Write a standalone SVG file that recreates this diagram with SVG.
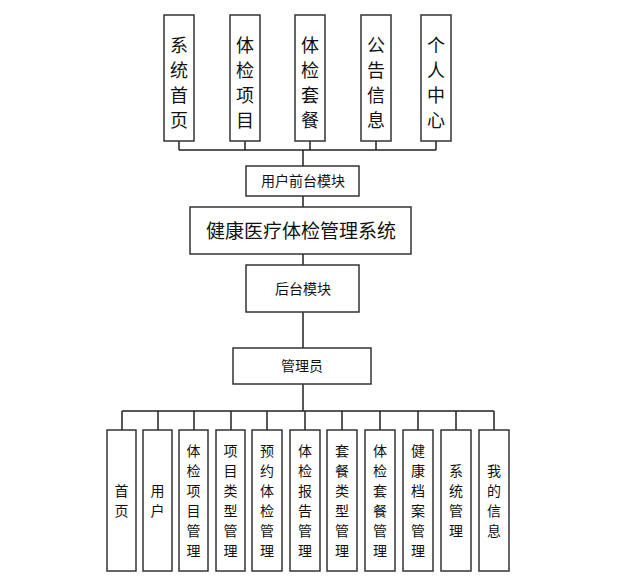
<svg xmlns="http://www.w3.org/2000/svg" width="627" height="586" viewBox="0 0 627 586">
<style>
rect{fill:#fff;stroke:#333;stroke-width:1.5}
text{font-family:"Noto Sans CJK SC","Noto Sans",sans-serif;fill:#111;text-anchor:middle}
.t{font-size:18px}.b{font-size:14px}.m{font-size:14px}
#connectors path{fill:none;stroke:#222;stroke-width:1.5}
</style>
<rect width="627" height="586" style="fill:#fff;stroke:none"/>
<g id="connectors">
<path d="M179 141V150M245 141V150M310 141V150M376 141V150M436 141V150M179 150H436M303 150V166M303 196V207M303 254V265M303 312V348M303 384V411M122 411H494M122 411V430M158 411V430M194 411V430M231 411V430M267 411V430M305 411V430M342 411V430M380 411V430M418 411V430M456 411V430M494 411V430"/>
</g>
<g id="n1"><rect x="164" y="15" width="30" height="126"/><text class="t"><tspan x="179" y="52">系</tspan><tspan x="179" y="77">统</tspan><tspan x="179" y="102">首</tspan><tspan x="179" y="127">页</tspan></text></g>
<g id="n2"><rect x="230" y="15" width="30" height="126"/><text class="t"><tspan x="245" y="52">体</tspan><tspan x="245" y="77">检</tspan><tspan x="245" y="102">项</tspan><tspan x="245" y="127">目</tspan></text></g>
<g id="n3"><rect x="295" y="15" width="30" height="126"/><text class="t"><tspan x="310" y="52">体</tspan><tspan x="310" y="77">检</tspan><tspan x="310" y="102">套</tspan><tspan x="310" y="127">餐</tspan></text></g>
<g id="n4"><rect x="361" y="15" width="30" height="126"/><text class="t"><tspan x="376" y="52">公</tspan><tspan x="376" y="77">告</tspan><tspan x="376" y="102">信</tspan><tspan x="376" y="127">息</tspan></text></g>
<g id="n5"><rect x="421" y="15" width="30" height="126"/><text class="t"><tspan x="436" y="52">个</tspan><tspan x="436" y="77">人</tspan><tspan x="436" y="102">中</tspan><tspan x="436" y="127">心</tspan></text></g>
<g id="front"><rect x="246" y="166" width="113" height="30"/><text class="m" x="303" y="186">用户前台模块</text></g>
<g id="sys"><rect x="190" y="207" width="221" height="47"/><text x="301" y="238" style="font-size:19px">健康医疗体检管理系统</text></g>
<g id="back"><rect x="246" y="265" width="113" height="47"/><text class="m" x="303" y="294">后台模块</text></g>
<g id="admin"><rect x="233" y="348" width="138" height="36"/><text class="m" x="302" y="371">管理员</text></g>
<g id="b1"><rect x="107" y="430" width="29" height="141"/><text class="b"><tspan x="121.5" y="496">首</tspan><tspan x="121.5" y="516">页</tspan></text></g>
<g id="b2"><rect x="143" y="430" width="29" height="141"/><text class="b"><tspan x="157.5" y="496">用</tspan><tspan x="157.5" y="516">户</tspan></text></g>
<g id="b3"><rect x="179" y="430" width="29" height="141"/><text class="b"><tspan x="193.5" y="456">体</tspan><tspan x="193.5" y="476">检</tspan><tspan x="193.5" y="496">项</tspan><tspan x="193.5" y="516">目</tspan><tspan x="193.5" y="536">管</tspan><tspan x="193.5" y="556">理</tspan></text></g>
<g id="b4"><rect x="216" y="430" width="29" height="141"/><text class="b"><tspan x="230.5" y="456">项</tspan><tspan x="230.5" y="476">目</tspan><tspan x="230.5" y="496">类</tspan><tspan x="230.5" y="516">型</tspan><tspan x="230.5" y="536">管</tspan><tspan x="230.5" y="556">理</tspan></text></g>
<g id="b5"><rect x="252" y="430" width="30" height="141"/><text class="b"><tspan x="267" y="456">预</tspan><tspan x="267" y="476">约</tspan><tspan x="267" y="496">体</tspan><tspan x="267" y="516">检</tspan><tspan x="267" y="536">管</tspan><tspan x="267" y="556">理</tspan></text></g>
<g id="b6"><rect x="290" y="430" width="30" height="141"/><text class="b"><tspan x="305" y="456">体</tspan><tspan x="305" y="476">检</tspan><tspan x="305" y="496">报</tspan><tspan x="305" y="516">告</tspan><tspan x="305" y="536">管</tspan><tspan x="305" y="556">理</tspan></text></g>
<g id="b7"><rect x="327" y="430" width="30" height="141"/><text class="b"><tspan x="342" y="456">套</tspan><tspan x="342" y="476">餐</tspan><tspan x="342" y="496">类</tspan><tspan x="342" y="516">型</tspan><tspan x="342" y="536">管</tspan><tspan x="342" y="556">理</tspan></text></g>
<g id="b8"><rect x="365" y="430" width="30" height="141"/><text class="b"><tspan x="380" y="456">体</tspan><tspan x="380" y="476">检</tspan><tspan x="380" y="496">套</tspan><tspan x="380" y="516">餐</tspan><tspan x="380" y="536">管</tspan><tspan x="380" y="556">理</tspan></text></g>
<g id="b9"><rect x="403" y="430" width="30" height="141"/><text class="b"><tspan x="418" y="456">健</tspan><tspan x="418" y="476">康</tspan><tspan x="418" y="496">档</tspan><tspan x="418" y="516">案</tspan><tspan x="418" y="536">管</tspan><tspan x="418" y="556">理</tspan></text></g>
<g id="b10"><rect x="441" y="430" width="30" height="141"/><text class="b"><tspan x="456" y="476">系</tspan><tspan x="456" y="496">统</tspan><tspan x="456" y="516">管</tspan><tspan x="456" y="536">理</tspan></text></g>
<g id="b11"><rect x="479" y="430" width="30" height="141"/><text class="b"><tspan x="494" y="476">我</tspan><tspan x="494" y="496">的</tspan><tspan x="494" y="516">信</tspan><tspan x="494" y="536">息</tspan></text></g>
</svg>
